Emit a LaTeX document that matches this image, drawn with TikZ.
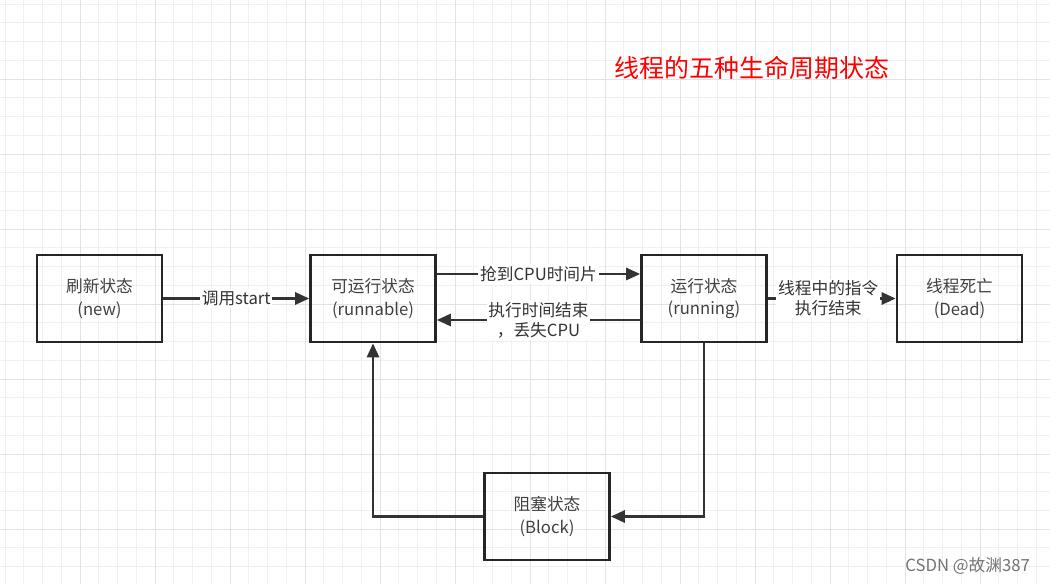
\documentclass[tikz,border=0pt]{standalone}
\usepackage{fontspec}
\setmainfont{Noto Sans CJK SC}
\usetikzlibrary{arrows.meta}
\tikzset{
  state/.style={draw=black!85,line width=1.6pt,minimum width=2.5cm,minimum height=1.74cm,align=center,font=\fontsize{9.5}{13}\selectfont,text=black!75},
  flow/.style={draw=black!80,line width=1.3pt,-{Triangle[length=8pt,width=7pt]}},
  lbl/.style={fill=white,inner sep=1pt,align=center,font=\fontsize{9.5}{11.5}\selectfont,text=black!80}
}
\begin{document}
\begin{tikzpicture}[x=0.02cm,y=-0.02cm]
  \useasboundingbox (0,0) rectangle (1050,584);
  % grid
  \foreach \x in {5,23.75,...,1050} \draw[black!6,line width=0.4pt] (\x,0) -- (\x,584);
  \foreach \y in {4,22.75,...,584} \draw[black!6,line width=0.4pt] (0,\y) -- (1050,\y);
  \foreach \x in {80,155,...,1050} \draw[black!11,line width=0.5pt] (\x,0) -- (\x,584);
  \foreach \y in {79,154,...,584} \draw[black!11,line width=0.5pt] (0,\y) -- (1050,\y);

  % title
  \node[text=red,font=\fontsize{14.2}{17}\selectfont] (title) at (752,68) {线程的五种生命周期状态};

  % states
  \node[state] (new) at (99.5,298.5) {刷新状态\\(new)};
  \node[state] (runnable) at (373,298.5) {可运行状态\\(runnable)};
  \node[state] (running) at (704,298.5) {运行状态\\(running)};
  \node[state] (dead) at (959.5,298.5) {线程死亡\\(Dead)};
  \node[state] (block) at (547,516.5) {阻塞状态\\(Block)};

  % transitions
  \draw[flow] (new) -- node[lbl] {调用start} (runnable);
  \draw[flow] (runnable.east |- 0,274) -- node[lbl] {抢到CPU时间片} (running.west |- 0,274);
  \draw[flow] (running.west |- 0,320) -- node[lbl] {执行时间结束\\，丢失CPU} (runnable.east |- 0,320);
  \draw[flow] (running) -- node[lbl,xshift=-2pt] {线程中的指令\\执行结束} (dead);
  \draw[flow] (running.south) |- (block.east);
  \draw[flow] (block.west) -| (runnable.south);

  % watermark
  \node[text=black!55,font=\fontsize{9.5}{11}\selectfont,anchor=east] (mark) at (1036,566) {CSDN @故渊387};
\end{tikzpicture}
\end{document}
